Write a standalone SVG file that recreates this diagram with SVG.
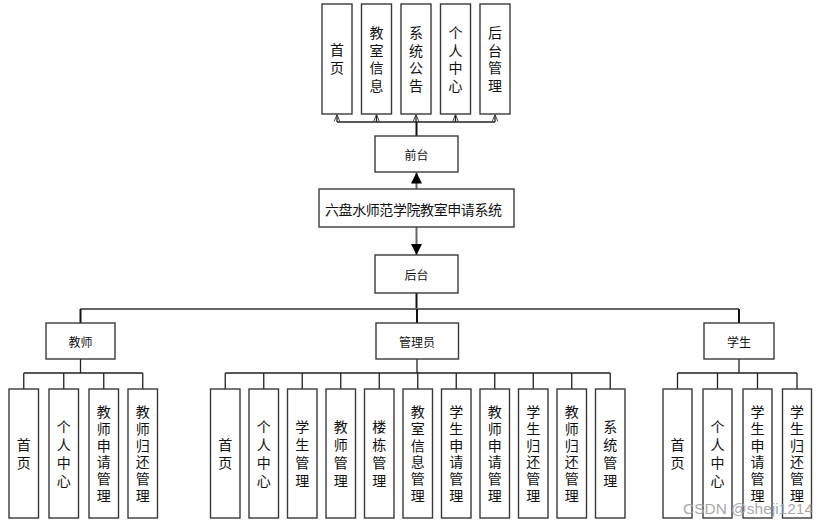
<svg xmlns="http://www.w3.org/2000/svg" width="821" height="526" viewBox="0 0 821 526">
<style>
.box{fill:#fff;stroke:#3a3a3a;stroke-width:1.4}
.t{font-family:"Noto Sans CJK SC","Noto Sans",sans-serif;fill:#111;text-anchor:middle;dominant-baseline:central}
.s12{font-size:12px}
.s14{font-size:14px}
.v{font-family:"Noto Sans CJK SC","Noto Sans",sans-serif;fill:#111;font-size:14px;writing-mode:vertical-rl;text-anchor:middle;text-orientation:upright}
.g2{letter-spacing:4px}
.g4{letter-spacing:3.8px}
.g6{letter-spacing:2.7px}
.ln{fill:none;stroke:#222;stroke-width:1.3}
.lg{fill:none;stroke:#666;stroke-width:2}
.lb{fill:none;stroke:#111;stroke-width:2}
</style>
<defs>
<marker id="open" viewBox="0 0 10 10" refX="10" refY="5" markerWidth="7" markerHeight="8" orient="auto" markerUnits="userSpaceOnUse"><path d="M0,1 L10,5 L0,9" fill="none" stroke="#333" stroke-width="1.3"/></marker>
<marker id="fill" viewBox="0 0 10 10" refX="10" refY="5" markerWidth="11" markerHeight="11" orient="auto" markerUnits="userSpaceOnUse"><path d="M0,0 L10,5 L0,10 Z" fill="#000"/></marker>
</defs>
<rect width="821" height="526" fill="#fff"/>

<g id="connectors">
<path class="ln" d="M337,122 H495"/>
<path class="ln" d="M337,122 V114.5" marker-end="url(#open)"/>
<path class="ln" d="M376.5,122 V114.5" marker-end="url(#open)"/>
<path class="ln" d="M416,122 V114.5" marker-end="url(#open)"/>
<path class="ln" d="M455.5,122 V114.5" marker-end="url(#open)"/>
<path class="ln" d="M495,122 V114.5" marker-end="url(#open)"/>
<path class="lb" d="M416.5,136 V122"/>
<path class="lg" d="M416.5,189 V172.5" marker-end="url(#fill)"/>
<path class="lg" d="M416.5,227 V255" marker-end="url(#fill)"/>
<path class="lb" d="M416.5,293 V309"/>
<path class="lg" d="M80.5,309 H739"/>
<path class="lb" d="M80.5,309 V323"/>
<path class="lb" d="M417,309 V323"/>
<path class="lb" d="M739,309 V323"/>
<path class="ln" d="M80.5,359 V373 M23.75,373 H142.75 M23.75,373 V389 M63.75,373 V389 M103.75,373 V389 M142.75,373 V389"/>
<path class="ln" d="M417,359 V373 M225.25,373 H610.25 M225.25,373 V389 M263.75,373 V389 M302.25,373 V389 M340.75,373 V389 M379.25,373 V389 M417.75,373 V389 M456.25,373 V389 M494.75,373 V389 M533.25,373 V389 M571.75,373 V389 M610.25,373 V389"/>
<path class="ln" d="M739,359 V373 M677.5,373 H797 M677.5,373 V389 M717.5,373 V389 M757.5,373 V389 M797,373 V389"/>
</g>

<g id="f-home"><rect class="box" x="322" y="4" width="30" height="110"/><text class="v g2" x="337" y="61">首页</text></g>
<g id="f-room"><rect class="box" x="361.5" y="4" width="30" height="110"/><text class="v g4" x="376.5" y="61">教室信息</text></g>
<g id="f-notice"><rect class="box" x="401" y="4" width="30" height="110"/><text class="v g4" x="416" y="61">系统公告</text></g>
<g id="f-user"><rect class="box" x="440.5" y="4" width="30" height="110"/><text class="v g4" x="455.5" y="61">个人中心</text></g>
<g id="f-admin"><rect class="box" x="480" y="4" width="30" height="110"/><text class="v g4" x="495" y="61">后台管理</text></g>

<g id="front"><rect class="box" x="375" y="136" width="83" height="36"/><text class="t s12" x="416.5" y="154">前台</text></g>
<g id="system"><rect class="box" x="319" y="189" width="195" height="38"/><text class="t s14" x="325" y="208.5" style="text-anchor:start" textLength="177" lengthAdjust="spacing">六盘水师范学院教室申请系统</text></g>
<g id="back"><rect class="box" x="375" y="255" width="83" height="38"/><text class="t s12" x="416.5" y="274">后台</text></g>

<g id="teacher"><rect class="box" x="46" y="323" width="69" height="36"/><text class="t s12" x="80.5" y="341">教师</text></g>
<g id="admin"><rect class="box" x="376" y="323" width="82.5" height="36"/><text class="t s12" x="417" y="341">管理员</text></g>
<g id="student"><rect class="box" x="704" y="323" width="70" height="36"/><text class="t s12" x="739" y="341">学生</text></g>

<g id="t-home"><rect class="box" x="9" y="389" width="29.5" height="129"/><text class="v g2" x="23.75" y="455.5">首页</text></g>
<g id="t-user"><rect class="box" x="49" y="389" width="29.5" height="129"/><text class="v g4" x="63.75" y="455.5">个人中心</text></g>
<g id="t-apply"><rect class="box" x="89" y="389" width="29.5" height="129"/><text class="v g6" x="103.75" y="455">教师申请管理</text></g>
<g id="t-return"><rect class="box" x="128" y="389" width="29.5" height="129"/><text class="v g6" x="142.75" y="455">教师归还管理</text></g>

<g id="a-home"><rect class="box" x="210.5" y="389" width="29.5" height="129"/><text class="v g2" x="225.25" y="455.5">首页</text></g>
<g id="a-user"><rect class="box" x="249" y="389" width="29.5" height="129"/><text class="v g4" x="263.75" y="455.5">个人中心</text></g>
<g id="a-student"><rect class="box" x="287.5" y="389" width="29.5" height="129"/><text class="v g4" x="302.25" y="455.5">学生管理</text></g>
<g id="a-teacher"><rect class="box" x="326" y="389" width="29.5" height="129"/><text class="v g4" x="340.75" y="455.5">教师管理</text></g>
<g id="a-building"><rect class="box" x="364.5" y="389" width="29.5" height="129"/><text class="v g4" x="379.25" y="455.5">楼栋管理</text></g>
<g id="a-room"><rect class="box" x="403" y="389" width="29.5" height="129"/><text class="v g6" x="417.75" y="455">教室信息管理</text></g>
<g id="a-sapply"><rect class="box" x="441.5" y="389" width="29.5" height="129"/><text class="v g6" x="456.25" y="455">学生申请管理</text></g>
<g id="a-tapply"><rect class="box" x="480" y="389" width="29.5" height="129"/><text class="v g6" x="494.75" y="455">教师申请管理</text></g>
<g id="a-sreturn"><rect class="box" x="518.5" y="389" width="29.5" height="129"/><text class="v g6" x="533.25" y="455">学生归还管理</text></g>
<g id="a-treturn"><rect class="box" x="557" y="389" width="29.5" height="129"/><text class="v g6" x="571.75" y="455">教师归还管理</text></g>
<g id="a-system"><rect class="box" x="595.5" y="389" width="29.5" height="129"/><text class="v g4" x="610.25" y="455.5">系统管理</text></g>

<g id="s-home"><rect class="box" x="663" y="389" width="29" height="129"/><text class="v g2" x="677.5" y="455.5">首页</text></g>
<g id="s-user"><rect class="box" x="703" y="389" width="29" height="129"/><text class="v g4" x="717.5" y="455.5">个人中心</text></g>
<g id="s-apply"><rect class="box" x="743" y="389" width="29" height="129"/><text class="v g6" x="757.5" y="455">学生申请管理</text></g>
<g id="s-return"><rect class="box" x="782.5" y="389" width="29" height="129"/><text class="v g6" x="797" y="455">学生归还管理</text></g>

<text x="683" y="514" font-family="Liberation Sans, Arial, sans-serif" font-size="15" fill="#a8a8a8" textLength="130" lengthAdjust="spacingAndGlyphs">CSDN @sheji1214</text>
</svg>
